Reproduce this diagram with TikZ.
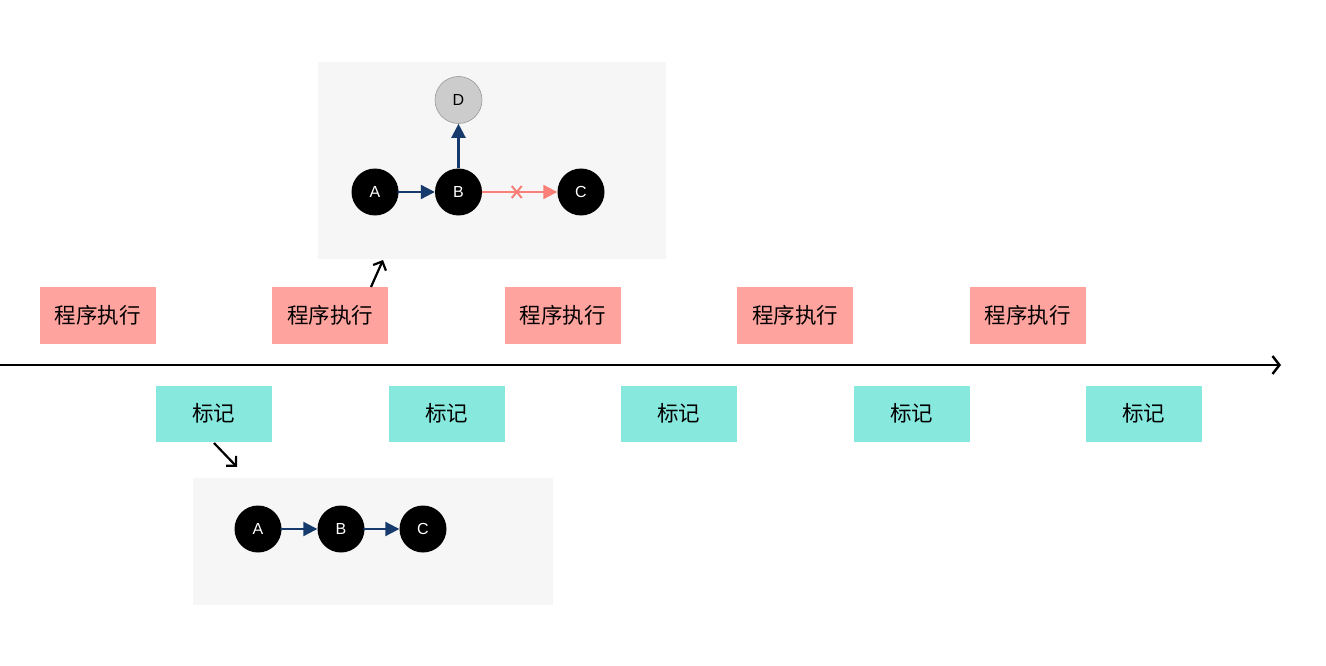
\documentclass[tikz,border=0pt]{standalone}
\usepackage{fontspec}
\setmainfont{Liberation Sans}
\newfontfamily\cjk{Noto Sans CJK SC}
\usetikzlibrary{arrows.meta,calc}
\definecolor{redbox}{RGB}{255,163,158}
\definecolor{tealbox}{RGB}{135,232,222}
\definecolor{panel}{RGB}{246,246,246}
\definecolor{navy}{RGB}{23,58,109}
\definecolor{salmon}{RGB}{248,128,120}
\tikzset{
  exec/.style={fill=redbox, minimum width=116pt, minimum height=57pt, inner sep=0pt, font=\cjk\fontsize{21.5}{23}\selectfont},
  mark box/.style={fill=tealbox, minimum width=116pt, minimum height=56pt, inner sep=0pt, font=\cjk\fontsize{21.5}{23}\selectfont},
  ball/.style={circle, fill=black, minimum size=47pt, inner sep=0pt, text=white, font=\fontsize{16}{18}\selectfont},
  grayball/.style={circle, fill=black!20, draw=black!40, line width=0.6pt, minimum size=47pt, inner sep=0pt, font=\fontsize{16}{18}\selectfont},
  edge/.style={navy, line width=2.2pt, -{Triangle[length=14pt,width=14pt]}},
  badedge/.style={salmon, line width=2.2pt, -{Triangle[length=14pt,width=14pt]}},
  pointer/.style={black, line width=2.2pt, -{Straight Barb[length=7pt,width=14pt]}},
  panelbox/.style={fill=panel, draw=none}
}
\begin{document}
\begin{tikzpicture}[x=1pt,y=-1pt]
\useasboundingbox (0,0) rectangle (1326,666);
% panels
\fill[panel] (318,62) rectangle (666,259);
\fill[panel] (193,478) rectangle (553,605);
% axis
\coordinate (ax0) at (0,365);
\coordinate (ax1) at (1281,365);
\draw[black, line width=2.4pt, -{Straight Barb[length=7pt,width=18pt]}] (ax0) -- (ax1);
% exec boxes
\node[exec] (e1) at (97.5,315) {程序执行};
\node[exec] (e2) at (330,315) {程序执行};
\node[exec] (e3) at (562.5,315) {程序执行};
\node[exec] (e4) at (795,315) {程序执行};
\node[exec] (e5) at (1027.5,315) {程序执行};
% mark boxes
\node[mark box] (m1) at (213.5,413.5) {标记};
\node[mark box] (m2) at (446.5,413.5) {标记};
\node[mark box] (m3) at (678.5,413.5) {标记};
\node[mark box] (m4) at (911.5,413.5) {标记};
\node[mark box] (m5) at (1143.5,413.5) {标记};
% top graph
\node[grayball] (D) at (458.5,100) {D};
\node[ball] (A1) at (375,192) {A};
\node[ball] (B1) at (458.5,192) {B};
\node[ball] (C1) at (581,192) {C};
\draw[edge] (A1) -- (B1);
\fill[navy] (A1.east) circle (1.5pt);
\draw[edge] (B1.north) -- (D.south);
\draw[badedge] (B1) -- (C1) coordinate[pos=0.46] (xmark);
\draw[salmon, line width=2pt] ($(xmark)+(-5,-6)$) -- ($(xmark)+(5,6)$) ($(xmark)+(-5,6)$) -- ($(xmark)+(5,-6)$);
% bottom graph
\node[ball] (A2) at (258,529) {A};
\node[ball] (B2) at (341,529) {B};
\node[ball] (C2) at (423,529) {C};
\draw[edge] (A2) -- (B2);
\draw[edge] (B2) -- (C2);
\fill[navy] (A2.east) circle (1.5pt);
\fill[navy] (B2.east) circle (1.5pt);
% pointers
\coordinate (p1s) at (371,287);
\coordinate (p1e) at (383,260);
\draw[pointer] (p1s) -- (p1e);
\coordinate (p2s) at (214,443);
\coordinate (p2e) at (237,467);
\draw[pointer] (p2s) -- (p2e);
\end{tikzpicture}
\end{document}
